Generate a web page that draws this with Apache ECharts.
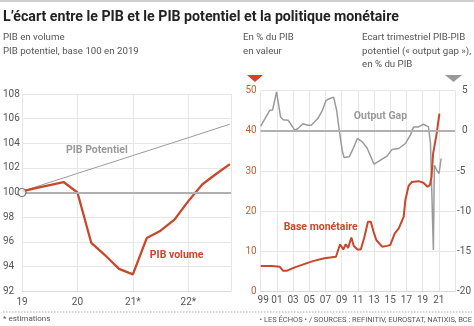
<!DOCTYPE html>
<html><head><meta charset="utf-8">
<script src="https://cdn.jsdelivr.net/npm/echarts@6/dist/echarts.min.js"></script>
<style>html,body{margin:0;padding:0;background:#fff}#c{width:474px;height:326px}</style>
</head><body><div id="c"></div>
<script>
// Left panel: GDP volume vs potential (base 100 = 2019)
const pibX = [2019.0,2019.25,2019.5,2019.75,2020.0,2020.25,2020.5,2020.75,2021.0,2021.25,2021.5,2021.75,2022.0,2022.25,2022.5,2022.75];
const pibVolume = [100.1,100.35,100.6,100.85,100.0,95.9,94.9,93.8,93.35,96.3,96.9,97.8,99.3,100.65,101.5,102.3];
const potX = [2019.0,2020.0,2021.0,2022.0,2022.75];
const pibPotentiel = [100.1,101.55,103.0,104.45,105.55];
const leftTicks = {2019:'19',2020:'20',2021:'21*',2022:'22*'};

// Right panel: monetary base (% GDP) and output gap (% GDP)
const gapX = [1999.0,2000.14,2000.47,2000.96,2001.45,2001.77,2002.38,2003.2,2003.6,2004.2,2004.83,2005.24,2006.05,2006.59,2007.08,2007.48,2008.0,2008.38,2008.7,2009.1,2009.3,2009.93,2010.33,2010.95,2011.56,2012.17,2013.0,2013.8,2014.6,2015.23,2016.05,2016.87,2017.48,2017.89,2018.5,2019.1,2019.72,2019.97,2020.33,2020.45,2020.74,2021.03,2021.28];
const outputGap = [0.6,2.57,2.6,4.85,1.74,1.4,1.33,0.09,0.3,0.9,0.7,0.7,1.54,2.48,3.8,4.0,4.2,2.57,0.09,-2.6,-3.3,-3.23,-2.4,-0.95,-1.36,-2.19,-4.14,-3.64,-3.14,-2.3,-2.19,-1.57,-0.53,0.5,0.5,0.83,0.5,-1.5,-14.8,-4.26,-4.88,-5.3,-3.43];
const baseX = [1999.0,2000.35,2001.36,2001.77,2002.2,2003.2,2004.0,2005.44,2006.87,2008.3,2008.5,2008.8,2009.2,2009.5,2009.8,2010.2,2010.5,2010.95,2011.36,2011.77,2012.25,2012.6,2013.0,2013.3,2014.0,2014.6,2015.0,2015.56,2016.05,2016.66,2016.87,2017.27,2017.68,2018.5,2019.1,2019.6,2019.9,2020.1,2020.3,2020.74,2021.07];
const baseMonetaire = [6.4,6.4,6.2,5.2,5.2,6.06,6.6,7.6,8.3,8.7,9.1,11.8,10.5,11.8,10.9,13.5,11.35,10.5,10.5,13.3,17.4,17.4,14.5,12.8,11.2,11.4,11.6,14.5,15.75,18.6,22.8,26.3,27.3,27.5,27.1,26.1,26.5,28.6,34.4,39.4,44.3];

const ORANGE = '#c9472a';
const GRAYL = '#9a9a9a';
const FONT = 'Roboto, "Open Sans", sans-serif';
const zip = (xs, ys) => xs.map((x, i) => [x, ys[i]]);

const chart = echarts.init(document.getElementById('c'), null, {renderer: 'canvas'});
chart.setOption({
  animation: false,
  textStyle: {fontFamily: FONT},
  grid: [
    {left: 21, top: 94, width: 210, height: 197},
    {left: 260.7, top: 90.7, width: 196, height: 201}
  ],
  xAxis: [
    {gridIndex: 0, type: 'value', min: 2019, max: 2022.77, interval: 1,
     axisLine: {show: true, lineStyle: {color: '#d8d8d8'}}, axisTick: {show: false},
     splitLine: {show: true, lineStyle: {color: '#e6e6e6'}},
     axisLabel: {color: '#555', fontSize: 10, margin: 6, fontFamily: FONT, showMinLabel: true,
       formatter: v => leftTicks[v] || ''}},
    {gridIndex: 1, type: 'value', min: 1999, max: 2023, interval: 2,
     axisLine: {show: true, lineStyle: {color: '#d8d8d8'}}, axisTick: {show: false},
     splitLine: {show: true, lineStyle: {color: '#e6e6e6'}},
     axisLabel: {color: '#555', fontSize: 10, margin: 4, fontFamily: FONT, showMinLabel: true, hideOverlap: false,
       formatter: v => (v === 2023 ? '' : (v === 1999 ? '  99' : String(v % 100).padStart(2, '0')))}}
  ],
  yAxis: [
    {gridIndex: 0, type: 'value', min: 92, max: 108, interval: 2,
     axisLine: {show: false}, axisTick: {show: false},
     splitLine: {lineStyle: {color: '#e6e6e6'}},
     axisLabel: {color: '#555', fontSize: 10, align: 'left', margin: 19, fontFamily: FONT}},
    {gridIndex: 1, type: 'value', min: 0, max: 50, interval: 10,
     axisLine: {show: false}, axisTick: {show: false},
     splitLine: {lineStyle: {color: '#e6e6e6'}},
     axisLabel: {color: '#c0603a', fontSize: 10, margin: 4, fontFamily: FONT}},
    {gridIndex: 1, type: 'value', position: 'right', min: -20, max: 5, interval: 5,
     axisLine: {show: false}, axisTick: {show: false},
     splitLine: {show: false},
     axisLabel: {color: '#555', fontSize: 10, margin: 2, align: 'left', fontFamily: FONT,
       formatter: v => (v < 0 ? '-' + Math.abs(v) : '  ' + v)}}
  ],
  series: [
    {type: 'line', xAxisIndex: 0, yAxisIndex: 0, data: zip(potX, pibPotentiel), symbol: 'none',
     lineStyle: {color: GRAYL, width: 1}, silent: true, z: 3,
     markPoint: {symbol: 'circle', symbolSize: 0, data: [{coord: [2020.35, 103.4]}],
       label: {show: true, position: 'inside', formatter: 'PIB Potentiel', color: GRAYL, fontWeight: 'bold', fontSize: 10.5, fontFamily: FONT}}},
    {type: 'line', xAxisIndex: 0, yAxisIndex: 0, data: zip(pibX, pibVolume), symbol: 'none',
     lineStyle: {color: ORANGE, width: 2.3}, silent: true, z: 4,
     markLine: {silent: true, symbol: 'none', label: {show: false}, lineStyle: {color: '#b0b0b0', width: 2, type: 'solid'},
       data: [{yAxis: 100}]},
     markPoint: {symbol: 'circle', symbolSize: 0, data: [{coord: [2021.79, 94.92]}],
       label: {show: true, position: 'inside', formatter: 'PIB volume', color: ORANGE, fontWeight: 'bold', fontSize: 10.5, fontFamily: FONT}}},
    {type: 'scatter', xAxisIndex: 0, yAxisIndex: 0, data: [[2019, 100]], symbol: 'circle', symbolSize: 8,
     itemStyle: {color: '#fff', borderColor: '#555', borderWidth: 1.2}, z: 6, silent: true},
    {type: 'line', xAxisIndex: 1, yAxisIndex: 2, data: zip(gapX, outputGap), symbol: 'none',
     lineStyle: {color: GRAYL, width: 1.5}, silent: true, z: 3,
     markLine: {silent: true, symbol: 'none', label: {show: false}, lineStyle: {color: '#b0b0b0', width: 2, type: 'solid'},
       data: [{yAxis: 0}]},
     markPoint: {symbol: 'circle', symbolSize: 0, data: [{coord: [2013.79, 1.83]}],
       label: {show: true, position: 'inside', formatter: 'Output Gap', color: GRAYL, fontWeight: 'bold', fontSize: 10.5, fontFamily: FONT}}},
    {type: 'line', xAxisIndex: 1, yAxisIndex: 1, data: zip(baseX, baseMonetaire), symbol: 'none',
     lineStyle: {color: ORANGE, width: 2}, silent: true, z: 4,
     markPoint: {symbol: 'circle', symbolSize: 0, data: [{coord: [2006.4, 16.1]}],
       label: {show: true, position: 'inside', formatter: 'Base monétaire', color: ORANGE, fontWeight: 'bold', fontSize: 10.5, fontFamily: FONT}}}
  ],
  graphic: [
    {type: 'rect', shape: {x: 0, y: 0, width: 474, height: 2}, style: {fill: '#cfcfcf'}},
    {type: 'text', left: 3, top: 10, style: {text: 'L’écart entre le PIB et le PIB potentiel et la politique monétaire', fill: '#222', font: 'bold 14.2px ' + FONT}},
    {type: 'text', left: 3, top: 31, style: {text: 'PIB en volume\nPIB potentiel, base 100 en 2019', fill: '#555', font: '9.7px ' + FONT, lineHeight: 13.5}},
    {type: 'text', left: 243, top: 31, style: {text: 'En % du PIB\nen valeur', fill: '#555', font: '9.7px ' + FONT, lineHeight: 13.5}},
    {type: 'text', left: 362, top: 31, style: {text: 'Ecart trimestriel PIB-PIB\npotentiel (« output gap »),\nen % du PIB', fill: '#555', font: '9.7px ' + FONT, lineHeight: 13.5}},
    {type: 'polygon', shape: {points: [[247, 75], [263, 75], [255, 82]]}, style: {fill: '#d8401f'}},
    {type: 'polygon', shape: {points: [[445, 75], [462, 75], [453.5, 82]]}, style: {fill: '#999'}},
    {type: 'line', shape: {x1: 3, y1: 312, x2: 472, y2: 312}, style: {stroke: '#aaa', lineWidth: 1, lineDash: [1.5, 1.5]}},
    {type: 'text', left: 3, top: 315, style: {text: '* estimations', fill: '#555', font: '8px ' + FONT}},
    {type: 'text', right: 2, top: 316, style: {text: '• LES ÉCHOS • / SOURCES : REFINITIV, EUROSTAT, NATIXIS, BCE', fill: '#555', font: '7.5px ' + FONT}}
  ]
});
</script></body></html>
